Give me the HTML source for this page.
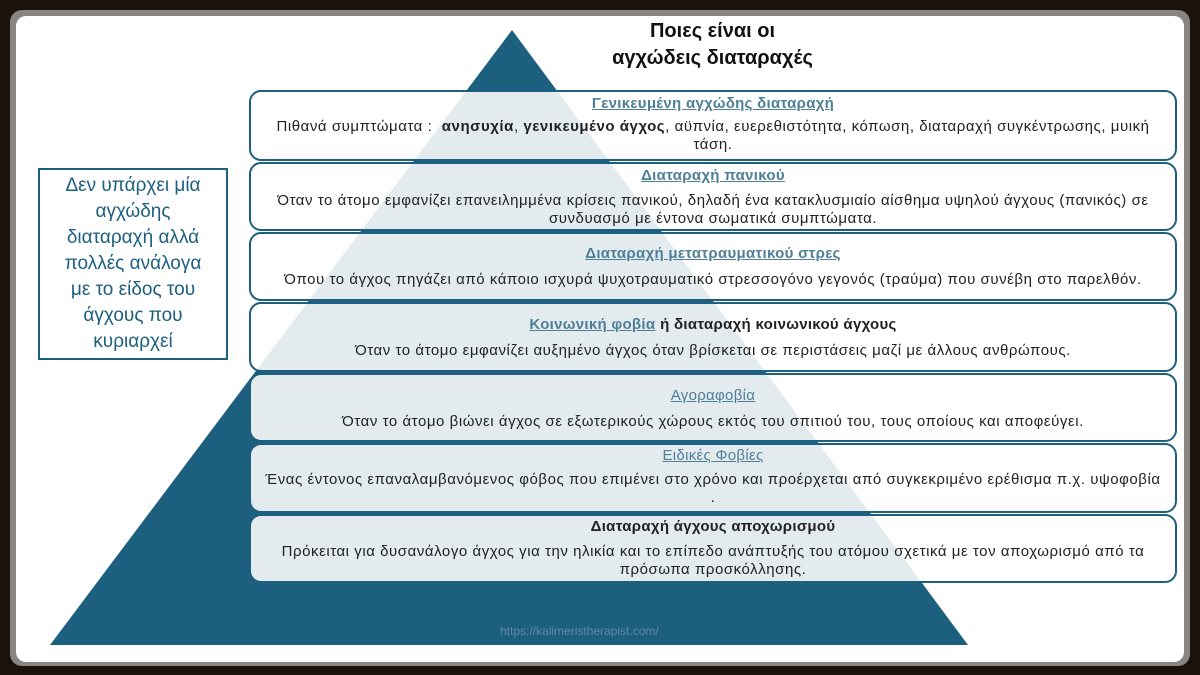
<!DOCTYPE html>
<html><head><meta charset="utf-8"><style>
body{margin:0;width:1200px;height:675px;background:#1a120c;position:relative;overflow:hidden;font-family:"Liberation Sans","DejaVu Sans",sans-serif;}
.frame{position:absolute;left:10px;top:10px;width:1180px;height:656px;border-radius:12px;background:#8a8580;}
.inner{position:absolute;left:16px;top:16px;width:1168px;height:646px;border-radius:10px;background:#fff;}
svg{position:absolute;left:0;top:0}
.box{position:absolute;left:249px;width:928px;border:2px solid #1d5f7f;border-radius:12px;background:rgba(255,255,255,0.88);text-align:center;font-size:15px;letter-spacing:0.55px;color:#222;line-height:18px;box-sizing:border-box;white-space:nowrap}
.t{color:#4e7f96;text-decoration:underline;font-size:15px;letter-spacing:0.3px}
.tb{font-weight:bold;color:#222;font-size:15px;letter-spacing:0.3px}
.title{position:absolute;left:560px;width:305px;top:18px;text-align:center;font-weight:bold;font-size:20px;line-height:27px;color:#111}
.left{position:absolute;left:38px;top:168px;width:190px;height:192px;border:2px solid #1d5f7f;box-sizing:border-box;color:#1d5f7f;font-size:19px;line-height:26px;text-align:center;padding-top:3px;white-space:nowrap}
.url{position:absolute;left:500px;top:624px;font-size:12px;color:#5f8aa0}
</style></head><body>
<div class="frame"></div><div class="inner"></div>
<svg width="1200" height="675"><polygon points="512,30 50,645 968,645" fill="#1d5f7f"/></svg>
<div class="title">Ποιες είναι οι<br>αγχώδεις διαταραχές</div>
<div class="left">Δεν υπάρχει μία<br>αγχώδης<br>διαταραχή αλλά<br>πολλές ανάλογα<br>με το είδος του<br>άγχους που<br>κυριαρχεί</div>
<div class="box" style="top:90px;height:71px;padding-top:3px"><span class="t" style="font-weight:bold">Γενικευμένη αγχώδης διαταραχή</span><br><div style="margin-top:5px">Πιθανά συμπτώματα : &nbsp;<b>ανησυχία</b>, <b>γενικευμένο άγχος</b>, αϋπνία, ευερεθιστότητα, κόπωση, διαταραχή συγκέντρωσης, μυική<br>τάση.</div></div>
<div class="box" style="top:162px;height:69px;padding-top:3px"><span class="t" style="font-weight:bold">Διαταραχή πανικού</span><div style="margin-top:7px">Όταν το άτομο εμφανίζει επανειλημμένα κρίσεις πανικού, δηλαδή ένα κατακλυσμιαίο αίσθημα υψηλού άγχους (πανικός) σε<br>συνδυασμό με έντονα σωματικά συμπτώματα.</div></div>
<div class="box" style="top:232px;height:69px;padding-top:11px"><span class="t" style="font-weight:bold">Διαταραχή μετατραυματικού στρες</span><div style="margin-top:8px">Όπου το άγχος πηγάζει από κάποιο ισχυρά ψυχοτραυματικό στρεσσογόνο γεγονός (τραύμα) που συνέβη στο παρελθόν.</div></div>
<div class="box" style="top:302px;height:70px;padding-top:12px"><span class="t" style="font-weight:bold">Κοινωνική φοβία</span> <span class="tb">ή διαταραχή κοινωνικού άγχους</span><div style="margin-top:8px">Όταν το άτομο εμφανίζει αυξημένο άγχος όταν βρίσκεται σε περιστάσεις μαζί με άλλους ανθρώπους.</div></div>
<div class="box" style="top:373px;height:69px;padding-top:12px"><span class="t">Αγοραφοβία</span><div style="margin-top:8px">Όταν το άτομο βιώνει άγχος σε εξωτερικούς χώρους εκτός του σπιτιού του, τους οποίους και αποφεύγει.</div></div>
<div class="box" style="top:443px;height:70px;padding-top:2px"><span class="t">Ειδικές Φοβίες</span><div style="margin-top:6px">Ένας έντονος επαναλαμβανόμενος φόβος που επιμένει στο χρόνο και προέρχεται από συγκεκριμένο ερέθισμα π.χ. υψοφοβία<br>.</div></div>
<div class="box" style="top:514px;height:69px;padding-top:2px"><span class="tb">Διαταραχή άγχους αποχωρισμού</span><div style="margin-top:7px">Πρόκειται για δυσανάλογο άγχος για την ηλικία και το επίπεδο ανάπτυξής του ατόμου σχετικά με τον αποχωρισμό από τα<br>πρόσωπα προσκόλλησης.</div></div>
<div class="url">https://kalimeristherapist.com/</div>
</body></html>
